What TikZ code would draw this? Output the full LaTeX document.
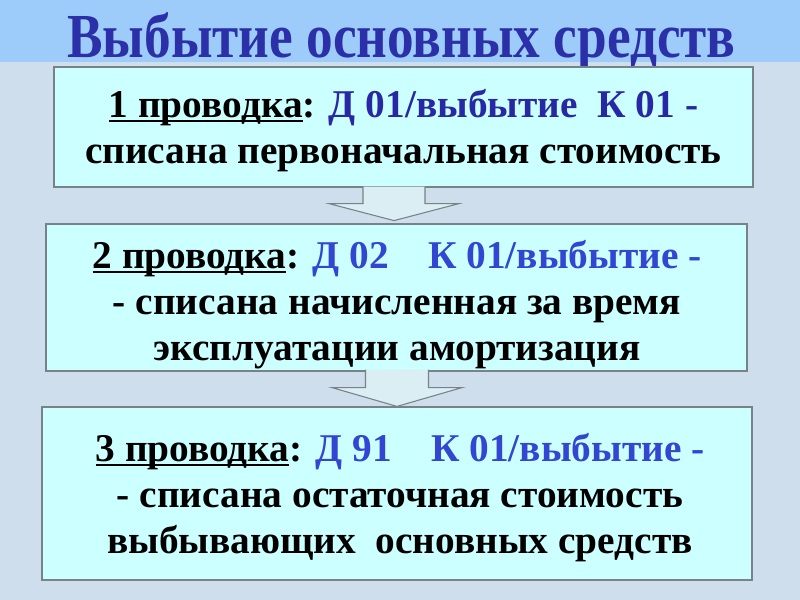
\documentclass[tikz,border=0pt]{standalone}
\usepackage{fontspec}
\setmainfont{Liberation Serif}
\usetikzlibrary{calc}
\definecolor{bgcol}{RGB}{206,222,236}
\definecolor{topcol}{RGB}{158,204,250}
\definecolor{boxfill}{RGB}{204,255,255}
\definecolor{boxline}{RGB}{120,130,135}
\definecolor{titleblue}{RGB}{43,47,168}
\definecolor{darkblue}{RGB}{40,40,165}
\definecolor{midblue}{RGB}{50,70,210}
\definecolor{arrowfill}{RGB}{218,238,244}
\newcommand\ulx[1]{\setbox0=\hbox{#1}\rlap{\rule[-3.2pt]{\wd0}{1.5pt}}\box0}
\tikzset{
  entrybox/.style={draw=boxline, line width=0.9pt, fill=boxfill, rectangle, inner sep=0pt},
  entrytext/.style={align=center, inner sep=0pt, font=\bfseries\fontsize{29.5}{34.5}\selectfont},
  downarrow/.style={draw=boxline, line width=0.8pt, fill=arrowfill},
}
\begin{document}
\begin{tikzpicture}[x=0.75pt, y=-0.75pt]
\useasboundingbox (0,0) rectangle (800,600);
\fill[bgcol] (0,0) rectangle (800,600);
\fill[topcol] (0,0) rectangle (800,62);
\node[text=titleblue, font=\bfseries\fontsize{47}{52}\selectfont, inner sep=0pt, anchor=base] (title) at (401.5,57) {\scalebox{0.85}[1]{Выбытие основных средств}};
% boxes
\node[entrybox, minimum width=524.25pt, minimum height=90pt] (b1) at (403.5,127) {};
\node[entrybox, minimum width=525.75pt, minimum height=110.25pt] (b2) at (396.5,297.5) {};
\node[entrybox, minimum width=532.5pt, minimum height=129.75pt] (b3) at (397,493.5) {};
% texts
\node[entrytext] (t1) at (403.5,131) {\ulx{1 проводка}: \textcolor{darkblue}{Д 01/выбытие\ \ К 01 -}\\списана первоначальная стоимость};
\node[entrytext] (t2) at (397,305) {\ulx{2 проводка}: \textcolor{midblue}{Д 02\ \ \ \ К 01/выбытие -}\\- списана начисленная за время\\эксплуатации амортизация};
\node[entrytext] (t3) at (400,498) {\ulx{3 проводка}: \textcolor{midblue}{Д 91\ \ \ \ К 01/выбытие -}\\- списана остаточная стоимость\\выбывающих\ \ основных средств};
% arrows
\coordinate (a1) at ($(b1.south)+(-9.5,0)$);
\draw[downarrow] ($(a1)+(-31,-1)$) -- ($(a1)+(-31,16)$) -- ($(a1)+(-65,16)$) -- ($(a1)+(0,33)$) -- ($(a1)+(65,16)$) -- ($(a1)+(31,16)$) -- ($(a1)+(31,-1)$);
\coordinate (a2) at ($(b2.south)+(0.5,0)$);
\draw[downarrow] ($(a2)+(-31.5,-2)$) -- ($(a2)+(-31.5,16)$) -- ($(a2)+(-65,16)$) -- (b3.north -| a2) -- ($(a2)+(65,16)$) -- ($(a2)+(31.5,16)$) -- ($(a2)+(31.5,-2)$);
\end{tikzpicture}
\end{document}
